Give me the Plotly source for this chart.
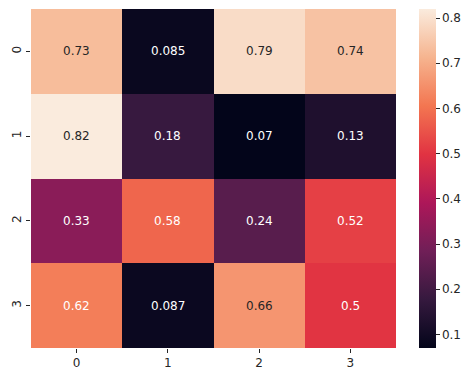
import plotly.graph_objects as go

rows = ["0", "1", "2", "3"]
cols = ["0", "1", "2", "3"]
values = [
    [0.73, 0.085, 0.79, 0.74],
    [0.82, 0.18, 0.07, 0.13],
    [0.33, 0.58, 0.24, 0.52],
    [0.62, 0.087, 0.66, 0.50],
]
cbar_ticks = [0.1, 0.2, 0.3, 0.4, 0.5, 0.6, 0.7, 0.8]

rocket = [
    [0.0, "#03051a"],
    [1/7, "#35193e"],
    [2/7, "#701f57"],
    [3/7, "#ad1759"],
    [4/7, "#e13342"],
    [5/7, "#f37651"],
    [6/7, "#f6b48f"],
    [1.0, "#faebdd"],
]

zmin = min(min(r) for r in values)
zmax = max(max(r) for r in values)

FS = 12


def hex_to_rgb(h):
    h = h.lstrip("#")
    return [int(h[i:i + 2], 16) / 255 for i in (0, 2, 4)]


def color_at(t):
    for (p0, c0), (p1, c1) in zip(rocket[:-1], rocket[1:]):
        if p0 <= t <= p1:
            f = (t - p0) / (p1 - p0) if p1 > p0 else 0
            a, b = hex_to_rgb(c0), hex_to_rgb(c1)
            return [a[i] + (b[i] - a[i]) * f for i in range(3)]
    return hex_to_rgb(rocket[-1][1])


def luminance(rgb):
    def ch(c):
        return c / 12.92 if c <= 0.03928 else ((c + 0.055) / 1.055) ** 2.4
    r, g, b = [ch(c) for c in rgb]
    return 0.2126 * r + 0.7152 * g + 0.0722 * b


fig = go.Figure(
    go.Heatmap(
        z=values,
        x=cols,
        y=rows,
        colorscale=rocket,
        zmin=zmin,
        zmax=zmax,
        xgap=0,
        ygap=0,
        colorbar=dict(
            x=1.063,
            xanchor="left",
            y=0,
            yanchor="bottom",
            len=1,
            lenmode="fraction",
            thickness=17,
            xpad=0,
            ypad=0,
            outlinewidth=0,
            tickvals=cbar_ticks,
            ticktext=[f"{v:.1f}" for v in cbar_ticks],
            ticks="outside",
            ticklen=4,
            tickcolor="#262626",
            tickfont=dict(family="DejaVu Sans", size=FS, color="#262626"),
        ),
        hoverinfo="skip",
    )
)

for i, r in enumerate(rows):
    for j, c in enumerate(cols):
        v = values[i][j]
        t = (v - zmin) / (zmax - zmin)
        lum = luminance(color_at(t))
        col = "#262626" if lum > 0.408 else "white"
        fig.add_annotation(
            x=c, y=r, text=f"{v:.2g}", showarrow=False,
            font=dict(family="DejaVu Sans", size=FS, color=col),
        )

fig.update_layout(
    width=466,
    height=372,
    margin=dict(l=23, r=78, t=1, b=32, autoexpand=False),
    plot_bgcolor="white",
    paper_bgcolor="white",
    xaxis=dict(
        ticks="outside", ticklen=4, tickcolor="#262626", showgrid=False,
        zeroline=False, showline=False, automargin=False,
        tickfont=dict(family="DejaVu Sans", size=FS, color="#262626"),
    ),
    yaxis=dict(
        autorange="reversed", ticks="outside", ticklen=4, tickcolor="#262626",
        showgrid=False, zeroline=False, showline=False, tickangle=-90,
        automargin=False,
        tickfont=dict(family="DejaVu Sans", size=FS, color="#262626"),
    ),
)

fig.write_html("out.html")
